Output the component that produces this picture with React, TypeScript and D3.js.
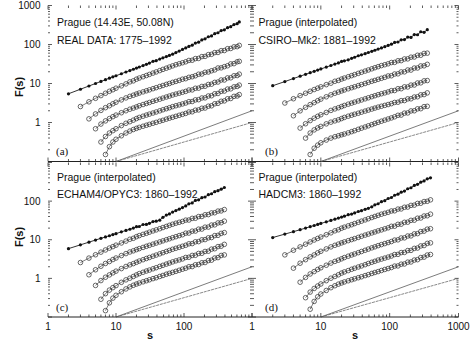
import React from 'react';
import * as d3 from 'd3';

// window sizes s, shared by all four panels (series k starts at S[k])
const S = [2, 3, 4, 5, 6, 7, 8, 9, 10, 12, 14, 16, 18, 20, 22, 25, 28, 31, 35, 39, 44, 49, 55, 61, 68, 76, 85, 95, 106, 118, 132, 147, 164, 183, 204, 228, 254, 283, 316, 352, 392, 437, 487, 543, 605, 650];

// (a) real data
const A_FILLED = [5.45, 7.13, 8.63, 10.0, 11.3, 12.5, 13.7, 14.8, 15.8, 17.8, 19.7, 21.5, 23.2, 24.9, 26.5, 28.8, 31.1, 33.3, 37.0, 38.5, 42.2, 45.4, 49.1, 52.6, 56.6, 61.9, 67.9, 74.6, 81.7, 89.5, 96, 109, 115, 131, 140, 158, 166, 190, 200, 228, 238, 270, 286, 325, 342, 380];
const A_O1 = [2.57, 3.39, 4.17, 4.90, 5.62, 6.31, 6.92, 7.59, 8.71, 9.77, 11.0, 11.7, 12.9, 13.8, 14.9, 16.0, 17.1, 18.5, 19.8, 21.4, 23.0, 24.7, 26.4, 28.3, 30.3, 32.1, 34.0, 36.0, 39.0, 39.5, 43.5, 44.0, 49.0, 49.5, 55.0, 56.0, 62.0, 62.5, 69.5, 70.0, 78.0, 79.0, 87.0, 88.0, 95.0];
const A_O2 = [1.24, 1.66, 2.04, 2.40, 2.69, 3.02, 3.31, 3.80, 4.27, 4.68, 5.01, 5.37, 5.69, 6.10, 6.50, 6.87, 7.36, 7.82, 8.36, 8.89, 9.48, 10.0, 10.7, 11.3, 12.0, 12.9, 13.3, 14.4, 14.9, 15.8, 17.3, 17.5, 19.4, 19.7, 21.2, 22.3, 25.0, 25.2, 27.0, 28.5, 31.8, 32.3, 36.0, 37.0];
const A_O3 = [0.692, 0.912, 1.10, 1.26, 1.41, 1.55, 1.78, 2.00, 2.19, 2.34, 2.51, 2.69, 2.89, 3.08, 3.26, 3.49, 3.71, 3.96, 4.22, 4.50, 4.76, 5.07, 5.35, 5.64, 5.96, 6.28, 6.8, 6.85, 7.55, 7.6, 8.4, 8.5, 9.45, 9.6, 10.7, 10.9, 12.3, 12.3, 13.9, 14.0, 15.8, 16.0, 17.4];
const A_O4 = [0.316, 0.437, 0.537, 0.617, 0.692, 0.832, 0.955, 1.05, 1.15, 1.26, 1.35, 1.45, 1.55, 1.64, 1.75, 1.86, 1.99, 2.12, 2.26, 2.39, 2.55, 2.69, 2.83, 2.99, 3.16, 3.42, 3.45, 3.80, 3.85, 4.25, 4.28, 4.78, 4.85, 5.45, 5.55, 6.3, 6.4, 7.2, 7.3, 8.2, 8.4, 9.1];
const A_O5 = [0.151, 0.240, 0.316, 0.372, 0.457, 0.537, 0.603, 0.661, 0.708, 0.750, 0.802, 0.851, 0.897, 0.957, 1.01, 1.08, 1.14, 1.22, 1.29, 1.36, 1.44, 1.53, 1.62, 1.71, 1.86, 1.88, 2.07, 2.10, 2.32, 2.35, 2.62, 2.68, 3.02, 3.10, 3.50, 3.58, 4.05, 4.12, 4.68, 4.78, 5.2];

// (b) CSIRO-Mk2
const B_FILLED = [8.77, 11.2, 13.4, 15.4, 17.2, 18.9, 20.5, 22.1, 23.6, 26.3, 28.9, 31.4, 33.7, 36.8, 38.1, 40.5, 44.3, 47.1, 51.5, 54.2, 58.3, 62.4, 67.0, 71.3, 76.4, 81.7, 87.7, 94.8, 102, 113, 116, 132, 134, 155, 152, 180, 178, 212, 205, 240];
const B_O1 = [3.16, 4.07, 4.90, 5.62, 6.31, 7.00, 7.59, 8.22, 9.33, 10.2, 11.4, 12.0, 13.0, 13.8, 14.9, 15.9, 16.9, 18.2, 19.4, 20.8, 22.2, 23.8, 25.4, 27.0, 28.8, 30.3, 32.0, 34.5, 34.8, 38.3, 38.6, 42.6, 42.8, 47.3, 47.8, 53, 53, 59, 60];
const B_O2 = [1.49, 1.99, 2.45, 2.88, 3.23, 3.62, 3.97, 4.56, 5.12, 5.62, 6.01, 6.44, 6.83, 7.32, 7.80, 8.24, 8.83, 9.38, 10.0, 10.7, 11.4, 12.0, 12.8, 13.6, 14.4, 15.6, 15.8, 17.5, 17.7, 19.8, 19.9, 22.2, 22.1, 24.9, 25.0, 28.2, 28.4, 31];
const B_O3 = [0.72, 0.93, 1.12, 1.29, 1.44, 1.58, 1.81, 2.04, 2.23, 2.39, 2.56, 2.74, 2.95, 3.14, 3.33, 3.56, 3.78, 4.04, 4.30, 4.59, 4.86, 5.17, 5.46, 5.75, 6.08, 6.55, 6.6, 7.35, 7.35, 8.2, 8.15, 9.1, 9.15, 10.3, 10.4, 11.7, 11.9];
const B_O4 = [0.398, 0.537, 0.646, 0.724, 0.794, 0.923, 1.02, 1.10, 1.17, 1.26, 1.35, 1.45, 1.54, 1.63, 1.73, 1.84, 1.96, 2.08, 2.21, 2.34, 2.48, 2.61, 2.75, 2.89, 3.04, 3.27, 3.31, 3.63, 3.65, 4.03, 4.05, 4.50, 4.57, 5.12, 5.2, 5.75];
const B_O5 = [0.151, 0.219, 0.263, 0.302, 0.355, 0.398, 0.432, 0.457, 0.484, 0.507, 0.543, 0.582, 0.617, 0.668, 0.716, 0.767, 0.822, 0.881, 0.944, 1.01, 1.08, 1.15, 1.23, 1.31, 1.40, 1.53, 1.55, 1.74, 1.76, 1.98, 2.0, 2.24, 2.26, 2.55, 2.6];

// (c) ECHAM4/OPYC3
const C_FILLED = [5.89, 7.38, 8.67, 9.82, 10.9, 11.8, 12.7, 13.6, 14.4, 16.0, 17.4, 18.7, 20.0, 21.8, 22.0, 24.8, 25.0, 26.6, 29.6, 30.2, 32.2, 38, 43.5, 46.5, 52, 57, 62, 68, 75, 85, 90, 104, 108, 123, 128, 147, 155, 176, 186, 204, 225];
const C_O1 = [2.57, 3.35, 4.09, 4.78, 5.44, 6.08, 6.64, 7.25, 8.26, 9.22, 10.3, 10.9, 12.0, 12.8, 13.8, 14.7, 15.7, 16.9, 18.0, 19.3, 20.7, 22.1, 23.6, 25.2, 26.8, 28.3, 29.8, 32.2, 32.4, 35.8, 36.0, 39.8, 40.0, 44.4, 44.8, 49.5, 50.0, 55.2, 55.8, 60.5];
const C_O2 = [1.24, 1.67, 2.06, 2.43, 2.73, 3.07, 3.37, 3.89, 4.38, 4.82, 5.17, 5.55, 5.89, 6.33, 6.77, 7.17, 7.69, 8.20, 8.78, 9.35, 10.0, 10.6, 11.3, 12.0, 12.8, 13.5, 14.8, 14.9, 16.7, 16.8, 18.8, 18.9, 21.2, 21.3, 24.0, 24.3, 27.3, 27.6, 30.3];
const C_O3 = [0.657, 0.877, 1.07, 1.23, 1.39, 1.54, 1.79, 2.03, 2.24, 2.41, 2.61, 2.81, 3.04, 3.27, 3.48, 3.75, 4.01, 4.32, 4.63, 4.97, 5.29, 5.67, 6.02, 6.39, 6.79, 7.20, 7.85, 7.95, 8.85, 8.95, 9.95, 10.1, 11.2, 11.4, 12.8, 13.0, 14.6, 15.3];
const C_O4 = [0.288, 0.402, 0.497, 0.576, 0.650, 0.790, 0.915, 1.01, 1.12, 1.23, 1.33, 1.44, 1.55, 1.64, 1.77, 1.89, 2.04, 2.18, 2.34, 2.49, 2.67, 2.84, 3.00, 3.19, 3.48, 3.52, 3.93, 3.96, 4.42, 4.45, 4.98, 5.05, 5.72, 5.86, 6.65, 6.8, 7.6];
const C_O5 = [0.146, 0.233, 0.308, 0.365, 0.451, 0.533, 0.602, 0.663, 0.713, 0.758, 0.814, 0.868, 0.919, 0.984, 1.04, 1.12, 1.19, 1.28, 1.35, 1.43, 1.52, 1.62, 1.73, 1.83, 2.0, 2.02, 2.25, 2.28, 2.54, 2.57, 2.89, 2.96, 3.36, 3.45, 3.92, 4.05];

// (d) HADCM3
const D_FILLED = [11.4, 14.0, 16.2, 18.2, 20.0, 21.8, 23.4, 24.9, 26.4, 29.1, 31.6, 34.0, 36.4, 38.6, 40.7, 44.5, 46.2, 49.5, 53.8, 56.5, 61.5, 65.2, 71, 80, 85.5, 97, 103, 117, 124, 142, 151, 171, 182, 209, 222, 255, 272, 310, 334, 378, 400];
const D_O1 = [4.06, 5.34, 6.54, 7.67, 8.78, 9.84, 10.8, 11.8, 13.5, 15.1, 17.0, 18.1, 19.9, 21.2, 22.9, 24.5, 26.2, 28.3, 30.3, 32.6, 35.0, 37.6, 40.1, 42.9, 45.9, 48.5, 51.3, 55.6, 56.2, 62.2, 62.8, 69.4, 70.2, 77.6, 78.8, 87.2, 88.0, 97.5, 99, 108];
const D_O2 = [1.84, 2.47, 3.05, 3.60, 4.05, 4.57, 5.02, 5.79, 6.53, 7.18, 7.71, 8.29, 8.80, 9.47, 10.1, 10.7, 11.5, 12.3, 13.2, 14.0, 15.0, 15.9, 17.0, 18.0, 19.2, 20.4, 22.3, 22.4, 25.1, 25.3, 28.3, 28.5, 31.8, 32.1, 36.1, 36.6, 41.2, 41.8, 46];
const D_O3 = [0.796, 1.06, 1.30, 1.50, 1.70, 1.88, 2.19, 2.49, 2.75, 2.96, 3.21, 3.46, 3.75, 4.03, 4.29, 4.63, 4.96, 5.34, 5.73, 6.17, 6.56, 7.04, 7.49, 7.95, 8.46, 8.98, 9.8, 9.95, 11.1, 11.2, 12.5, 12.6, 14.2, 14.4, 16.3, 16.7, 18.8, 19.3];
const D_O4 = [0.316, 0.442, 0.548, 0.634, 0.716, 0.872, 1.01, 1.12, 1.24, 1.37, 1.47, 1.59, 1.72, 1.83, 1.97, 2.10, 2.26, 2.43, 2.61, 2.77, 2.98, 3.16, 3.35, 3.56, 3.79, 4.14, 4.18, 4.66, 4.7, 5.25, 5.3, 5.98, 6.1, 6.92, 7.08, 8.05, 8.3];
const D_O5 = [0.159, 0.253, 0.334, 0.394, 0.486, 0.574, 0.645, 0.709, 0.760, 0.809, 0.867, 0.922, 0.975, 1.04, 1.10, 1.18, 1.25, 1.34, 1.42, 1.50, 1.60, 1.70, 1.80, 1.91, 2.08, 2.1, 2.33, 2.36, 2.63, 2.66, 2.98, 3.05, 3.46, 3.55, 4.02, 4.15];

// two reference slopes drawn in every panel
const REF_S = [10, 1000];
const REF_STEEP = [0.1, 2.0];
const REF_FLAT = [0.1, 1.0];

const Y_LABELS_TOP = [1, 10, 100, 1000];
const Y_LABELS_BOTTOM = [1, 10, 100];
const X_LABELS_LEFT = [1, 10, 100];
const X_LABELS_RIGHT = [1, 10, 100, 1000];

const TITLES = [
  ['Prague (14.43E, 50.08N)', 'REAL DATA: 1775\u20131992'],
  ['Prague (interpolated)', 'CSIRO\u2013Mk2: 1881\u20131992'],
  ['Prague (interpolated)', 'ECHAM4/OPYC3: 1860\u20131992'],
  ['Prague (interpolated)', 'HADCM3: 1860\u20131992'],
];
const TAGS = ['(a)', '(b)', '(c)', '(d)'];

const W = 474;
const H = 351;
const FONT = "'Liberation Sans', Arial, Helvetica, sans-serif";
const COLS = [[48, 252], [252, 458.5]];
const ROWS = [[161.5, 5.5], [317, 162.5]];

const panels = [
  { col: 0, row: 0, filled: A_FILLED, open: [A_O1, A_O2, A_O3, A_O4, A_O5] },
  { col: 1, row: 0, filled: B_FILLED, open: [B_O1, B_O2, B_O3, B_O4, B_O5] },
  { col: 0, row: 1, filled: C_FILLED, open: [C_O1, C_O2, C_O3, C_O4, C_O5] },
  { col: 1, row: 1, filled: D_FILLED, open: [D_O1, D_O2, D_O3, D_O4, D_O5] },
];

const isMajor = (t: number) => Math.abs(Math.log10(t) - Math.round(Math.log10(t))) < 1e-6;

function Panel({ p, idx }: { p: any; idx: number }) {
  const [x0, x1] = COLS[p.col];
  const [yb, yt] = ROWS[p.row];
  const x = d3.scaleLog().domain([1, 1000]).range([x0, x1]);
  const y = d3.scaleLog().domain([0.1, 1000]).range([yb, yt]);
  const line = d3.line<number[]>().x(d => x(d[0])).y(d => y(d[1]));

  const filledPts = p.filled.map((v: number, i: number) => [S[i], v]);
  const openPts = p.open.map((arr: number[], k: number) => arr.map((v, i) => [S[i + k + 1], v]));
  const steep = REF_S.map((s, i) => [s, REF_STEEP[i]]);
  const flat = REF_S.map((s, i) => [s, REF_FLAT[i]]);

  const xt = x.ticks();
  const yticks = y.ticks();
  const tx = p.col === 0 ? x0 + 9 : x0 + 6.5;
  const t1 = p.row === 0 ? yt + 20 : yt + 18;
  const t2 = p.row === 0 ? yt + 38 : yt + 35.5;
  const tagX = p.col === 0 ? x0 + 8 : x0 + 13;

  return (
    <g>
      {/* ticks on the four edges, pointing inward */}
      {xt.map((t, i) => {
        const len = isMajor(t) ? 4 : 2.5;
        return (
          <g key={'xt' + i} stroke="#333" strokeWidth={0.8}>
            <line x1={x(t)} x2={x(t)} y1={yb} y2={yb - len} />
            <line x1={x(t)} x2={x(t)} y1={yt} y2={yt + len} />
          </g>
        );
      })}
      {yticks.map((t, i) => {
        const len = isMajor(t) ? 4 : 2;
        return (
          <g key={'yt' + i} stroke="#333" strokeWidth={0.8}>
            <line x1={x0} x2={x0 + len} y1={y(t)} y2={y(t)} />
            <line x1={x1} x2={x1 - len} y1={y(t)} y2={y(t)} />
          </g>
        );
      })}
      <line x1={x0} x2={x1} y1={yb} y2={yb} stroke="#222" strokeWidth={1} />

      {/* reference slopes */}
      <path d={line(steep) || ''} fill="none" stroke="#444" strokeWidth={0.7} />
      <path d={line(flat) || ''} fill="none" stroke="#555" strokeWidth={0.7} strokeDasharray="3 0.8" />

      {/* open-circle series */}
      {openPts.map((pts: number[][], k: number) => (
        <g key={'o' + k}>
          <path d={line(pts) || ''} fill="none" stroke="#444" strokeWidth={0.7} />
          {pts.map((d, i) => (
            <circle key={i} cx={x(d[0])} cy={y(d[1])} r={2.3} fill="none" stroke="#2a2a2a" strokeWidth={0.7} />
          ))}
        </g>
      ))}

      {/* filled series */}
      <path d={line(filledPts) || ''} fill="none" stroke="#1a1a1a" strokeWidth={0.9} />
      {filledPts.map((d: number[], i: number) => (
        <circle key={'f' + i} cx={x(d[0])} cy={y(d[1])} r={1.6} fill="#111" />
      ))}

      <text x={tx} y={t1} fontFamily={FONT} fontSize={10.5} fill="#111">{TITLES[idx][0]}</text>
      <text x={tx} y={t2} fontFamily={FONT} fontSize={10.5} fill="#111">{TITLES[idx][1]}</text>
      <text x={tagX} y={yb - 6.5} fontFamily="'Liberation Serif', 'Times New Roman', serif" fontSize={11} fill="#111">{TAGS[idx]}</text>

      {p.col === 0 && (p.row === 0 ? Y_LABELS_TOP : Y_LABELS_BOTTOM).map(v => (
        <text key={'yl' + v} x={40.5} y={y(v) + 3.5} textAnchor="end" fontFamily={FONT} fontSize={10} fill="#111">{v}</text>
      ))}
      {p.row === 1 && (p.col === 0 ? X_LABELS_LEFT : X_LABELS_RIGHT).map(v => (
        <text key={'xl' + v} x={x(v)} y={329.5} textAnchor="middle" fontFamily={FONT} fontSize={10} fill="#111">{v}</text>
      ))}
      {p.col === 0 && (
        <text transform={`translate(23,${p.row === 0 ? 87 : 237}) rotate(-90)`} textAnchor="middle" fontFamily={FONT} fontSize={11} fontWeight="bold" fill="#111">F(s)</text>
      )}
      {p.row === 1 && (
        <text x={p.col === 0 ? 150 : 355} y={338.5} textAnchor="middle" fontFamily={FONT} fontSize={11} fontWeight="bold" fill="#111">s</text>
      )}
    </g>
  );
}

export default function App() {
  return (
    <svg width={W} height={H} viewBox={`0 0 ${W} ${H}`} style={{ position: 'absolute', left: 0, top: 0, background: '#fff' }}>
      <rect x={0} y={0} width={W} height={H} fill="#fff" />
      {panels.map((p, i) => <Panel key={i} p={p} idx={i} />)}
    </svg>
  );
}
